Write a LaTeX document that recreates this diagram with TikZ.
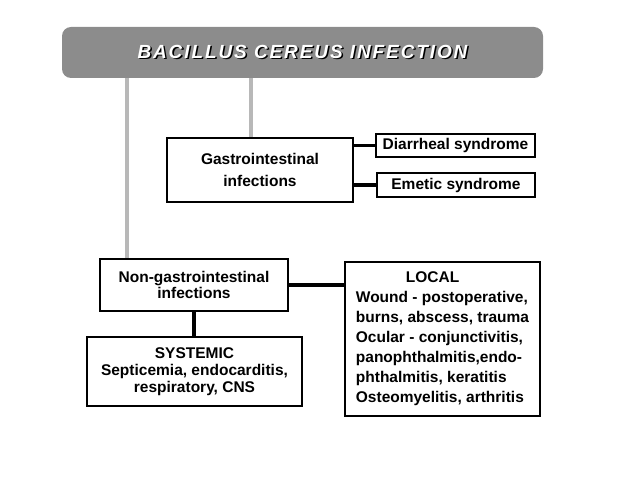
\documentclass[tikz,border=0pt]{standalone}
\usepackage{fontspec}
\usepackage{xcolor}
\usepackage{tikz}
\usetikzlibrary{positioning, calc}
\setmainfont{Liberation Sans}
\newfontfamily\bannerfont[LetterSpace=10]{Liberation Sans}
\definecolor{banner}{HTML}{8C8C8C}
\definecolor{stem}{HTML}{B8B8B8}
\newcommand{\shadowtext}[1]{\rlap{\kern1.5pt\raisebox{-1.5pt}{\color{black}#1}}\color{white}#1}

\tikzset{
  box/.style={draw=black, line width=2.6pt, fill=white, align=center, inner sep=2pt,
              font=\bfseries\fontsize{15.5}{19}\selectfont},
  stem/.style={draw=stem, line width=4pt},
  link/.style={draw=black, line width=3.5pt}
}

\begin{document}
\begin{tikzpicture}[x=1pt, y=-1pt]
  \useasboundingbox (0,0) rectangle (638,478);

  % Title banner
  \node[fill=banner, rounded corners=9pt, minimum width=481pt, minimum height=51pt,
        font=\bannerfont\bfseries\itshape\fontsize{19}{22}\selectfont]
    (title) at (302.5,52.5) {\shadowtext{BACILLUS CEREUS INFECTION}};

  % Boxes
  \node[box, minimum width=186pt, minimum height=64pt,
        font=\bfseries\fontsize{15.5}{22}\selectfont] (gastro) at (260,170)
    {Gastrointestinal\\infections};
  \node[box, minimum width=159pt, minimum height=23pt] (diarrheal) at (455.5,145.5)
    {Diarrheal syndrome};
  \node[box, minimum width=158pt, minimum height=24pt] (emetic) at (456,185)
    {Emetic syndrome};
  \node[box, minimum width=188pt, minimum height=52pt,
        font=\bfseries\fontsize{15.5}{14}\selectfont] (nongastro) at (194,285)
    {Non-gastrointestinal\\infections};
  \node[box, minimum width=215pt, minimum height=69pt,
        font=\bfseries\fontsize{15.5}{17}\selectfont] (systemic) at (194.5,371.5)
    {SYSTEMIC\\Septicemia, endocarditis,\\respiratory, CNS};
  \node[box, minimum width=195pt, minimum height=154pt, align=left,
        font=\bfseries\fontsize{15.5}{20}\selectfont] (local) at (442.5,339)
    {\hspace*{50pt}LOCAL\\Wound - postoperative,\\burns, abscess, trauma\\Ocular - conjunctivitis,\\panophthalmitis,endo-\\phthalmitis, keratitis\\Osteomyelitis, arthritis};

  % Connectors
  \draw[stem] ([xshift=-9pt]gastro.north) -- ([xshift=-9pt]gastro.north |- title.south);
  \draw[stem] ([xshift=28pt]nongastro.north west) -- ([xshift=28pt]nongastro.north west |- title.south);
  \draw[link] (diarrheal.west -| gastro.east) -- (diarrheal.west);
  \draw[link] (emetic.west -| gastro.east) -- (emetic.west);
  \draw[link] (nongastro.south) -- (nongastro.south |- systemic.north);
  \draw[link] (nongastro.east) -- (nongastro.east -| local.west);
\end{tikzpicture}
\end{document}
